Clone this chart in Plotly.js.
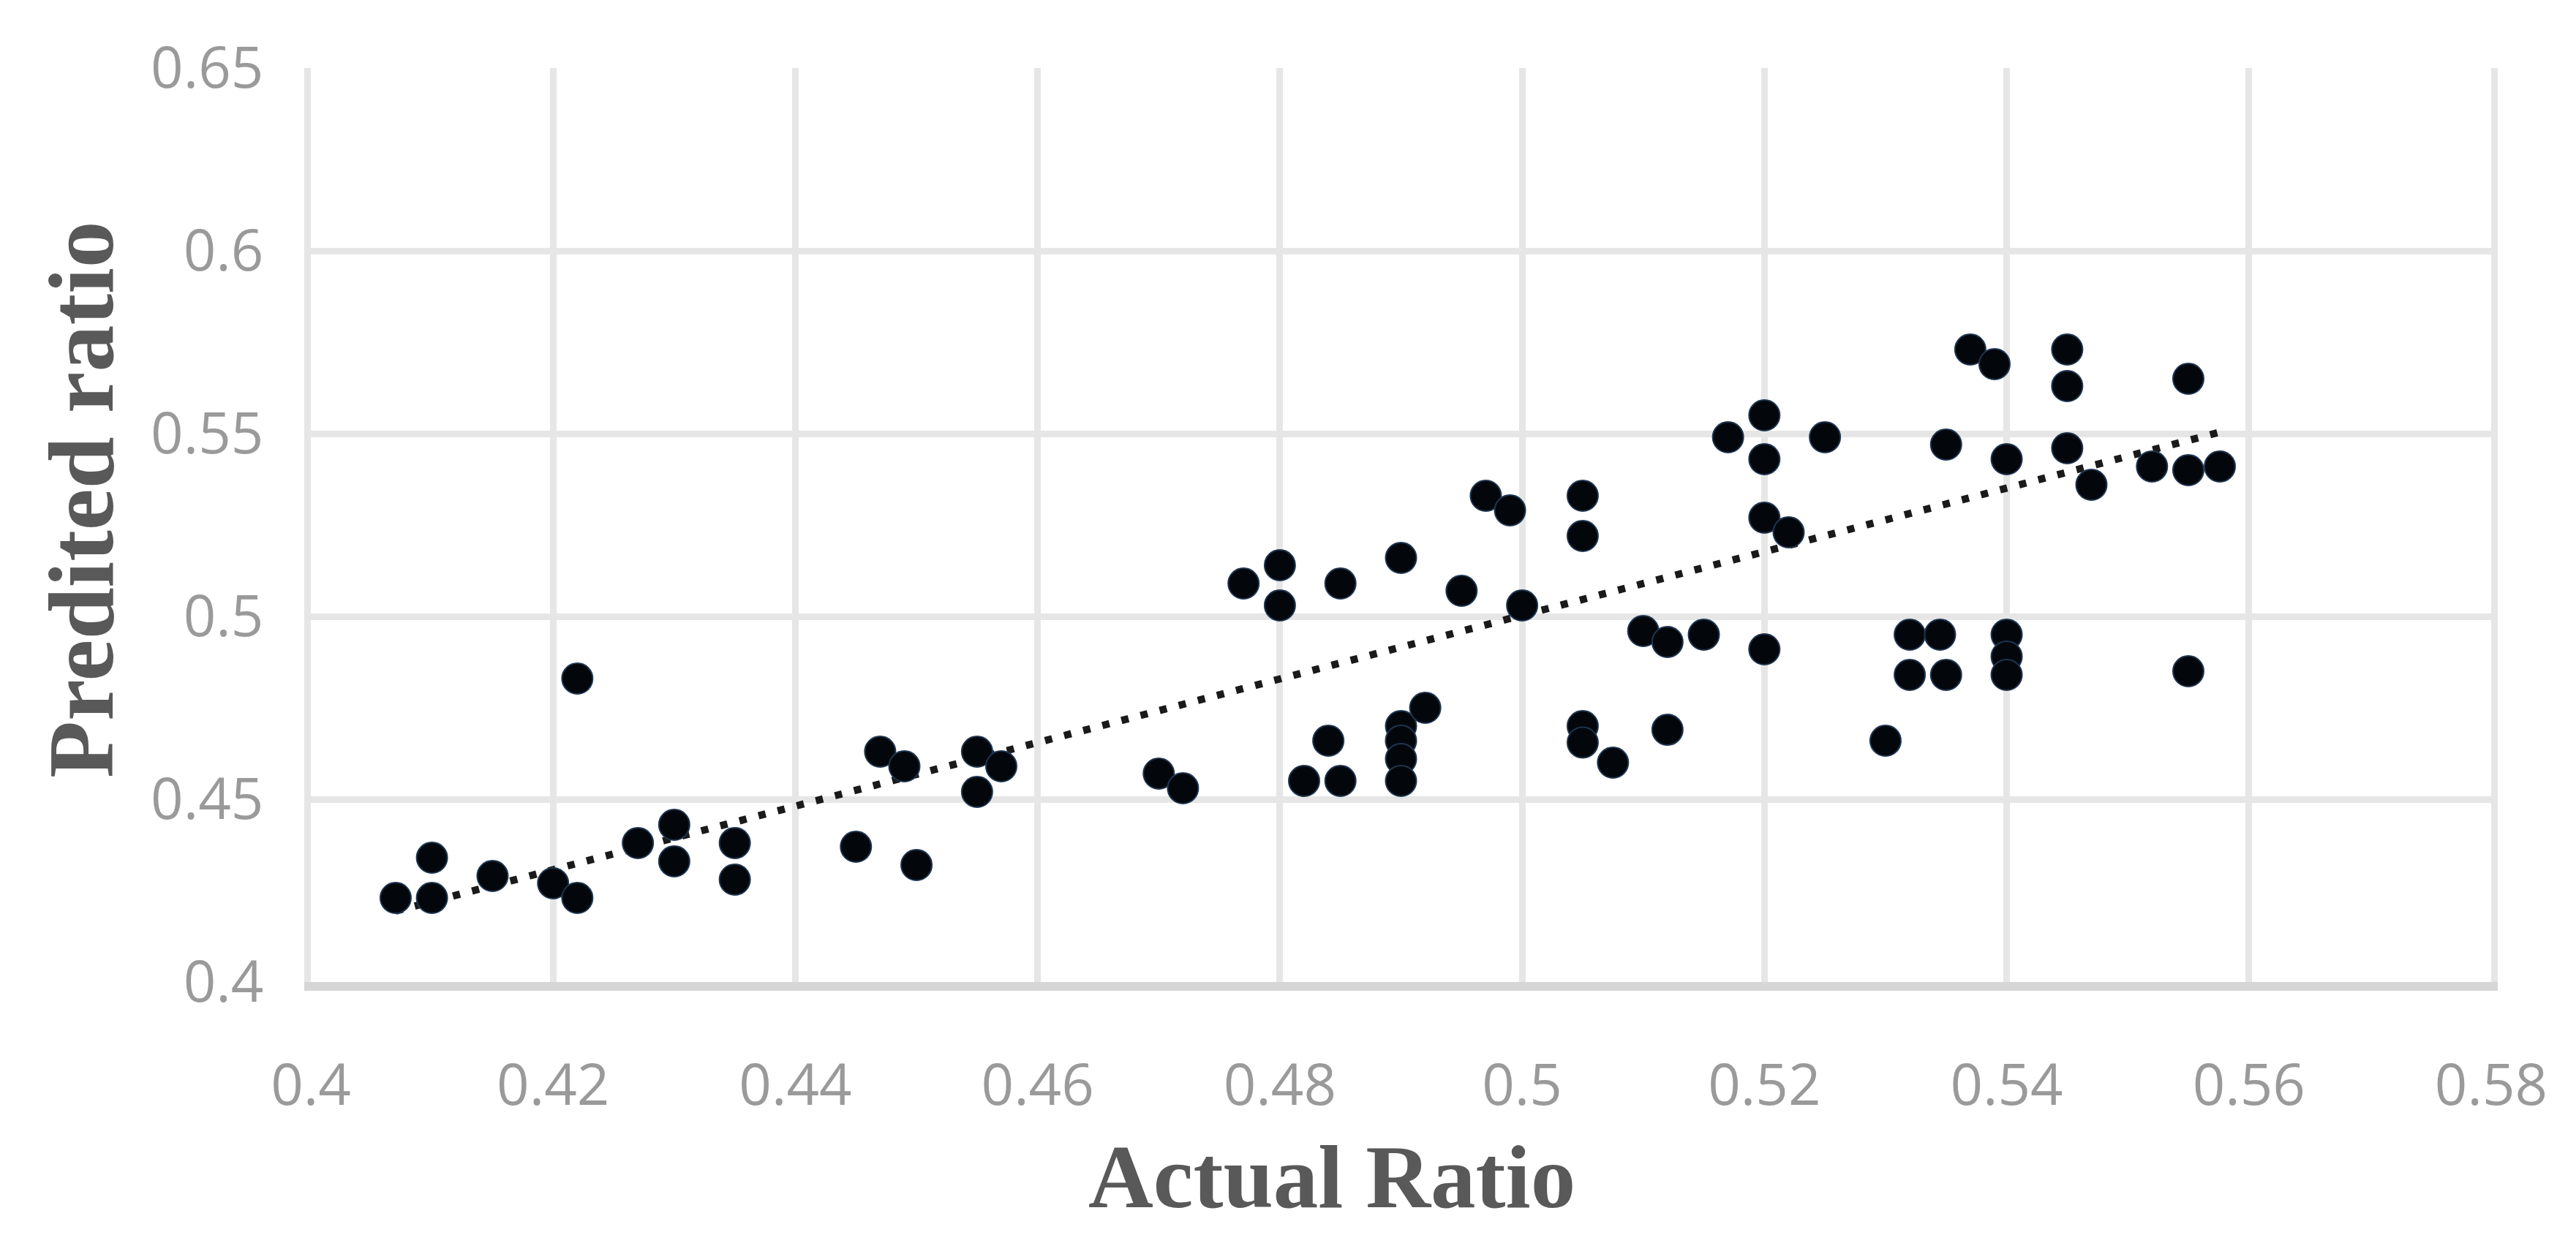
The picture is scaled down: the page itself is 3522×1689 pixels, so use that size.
<!DOCTYPE html>
<html>
<head>
<meta charset="utf-8">
<script src="https://cdn.plot.ly/plotly-3.0.1.min.js"></script>
<style>html,body{margin:0;padding:0;background:#fff;}#chart{width:3522px;height:1689px;}</style>
</head>
<body>
<div id="chart"></div>
<script>
// Actual ratio (x) and predicted ratio (y)
const actualRatio = [
  0.407, 0.410, 0.410, 0.415, 0.420, 0.422, 0.422, 0.427, 0.430, 0.430,
  0.435, 0.435, 0.445, 0.447, 0.449, 0.450, 0.455, 0.455, 0.457, 0.470,
  0.472, 0.477, 0.480, 0.480, 0.482, 0.484, 0.485, 0.485, 0.490, 0.490,
  0.490, 0.490, 0.490, 0.492, 0.495, 0.497, 0.499, 0.500, 0.505, 0.505,
  0.505, 0.505, 0.5075, 0.510, 0.512, 0.512, 0.515, 0.517, 0.520, 0.520,
  0.520, 0.522, 0.520, 0.525, 0.530, 0.532, 0.532, 0.5345, 0.535, 0.535,
  0.537, 0.539, 0.540, 0.540, 0.540, 0.540, 0.545, 0.545, 0.545, 0.547,
  0.552, 0.555, 0.555, 0.555, 0.5576
];
const predictedRatio = [
  0.423, 0.423, 0.434, 0.429, 0.427, 0.423, 0.483, 0.438, 0.443, 0.433,
  0.438, 0.428, 0.437, 0.463, 0.459, 0.432, 0.463, 0.452, 0.459, 0.457,
  0.453, 0.509, 0.514, 0.503, 0.455, 0.466, 0.509, 0.455, 0.516, 0.470,
  0.466, 0.461, 0.455, 0.475, 0.507, 0.533, 0.529, 0.503, 0.533, 0.522,
  0.470, 0.4655, 0.460, 0.496, 0.493, 0.469, 0.495, 0.549, 0.555, 0.543,
  0.527, 0.523, 0.491, 0.549, 0.466, 0.495, 0.484, 0.495, 0.484, 0.547,
  0.573, 0.569, 0.543, 0.495, 0.489, 0.484, 0.573, 0.563, 0.546, 0.536,
  0.541, 0.565, 0.540, 0.485, 0.541
];
// Dotted trendline end points
const trendX = [0.407, 0.5576];
const trendY = [0.4194, 0.5504];
const xTickVals = [0.4, 0.42, 0.44, 0.46, 0.48, 0.5, 0.52, 0.54, 0.56, 0.58];
const xTickText = ["0.4", "0.42", "0.44", "0.46", "0.48", "0.5", "0.52", "0.54", "0.56", "0.58"];
const yTickVals = [0.4, 0.45, 0.5, 0.55, 0.6, 0.65];
const yTickText = ["0.4", "0.45", "0.5", "0.55", "0.6", "0.65"];
const xTitle = "Actual Ratio";
const yTitle = "Predited ratio";

const traces = [
  {
    x: trendX, y: trendY, type: 'scatter', mode: 'lines',
    line: {color: '#1a1a1a', width: 10, dash: '10px,17px'},
    hoverinfo: 'skip', showlegend: false
  },
  {
    x: actualRatio, y: predictedRatio, type: 'scatter', mode: 'markers',
    marker: {size: 42, color: '#03070c', line: {color: '#1f3650', width: 2}},
    showlegend: false
  }
];

const tickFont = {family: 'Open Sans, sans-serif', size: 78, color: '#9a9a9a'};
const titleFont = {family: 'Liberation Serif, serif', color: '#595959', weight: 'bold'};

const layout = {
  width: 3522, height: 1689,
  margin: {l: 425, r: 116, t: 93, b: 346, pad: 0},
  paper_bgcolor: '#ffffff', plot_bgcolor: '#ffffff',
  showlegend: false,
  xaxis: {
    range: [0.4, 0.58], tickvals: xTickVals, ticktext: xTickText,
    showgrid: true, gridcolor: '#e6e6e6', gridwidth: 9,
    zeroline: false, showline: true, linecolor: '#d6d6d6', linewidth: 12,
    ticks: '', ticklabelstandoff: 62, tickfont: tickFont
  },
  yaxis: {
    range: [0.4, 0.65], tickvals: yTickVals, ticktext: yTickText,
    showgrid: true, gridcolor: '#e6e6e6', gridwidth: 9,
    zeroline: false, showline: true, linecolor: '#e6e6e6', linewidth: 9, mirror: true,
    ticks: '', ticklabelstandoff: 40, tickfont: tickFont
  },
  annotations: [
    {
      text: xTitle, xref: 'paper', yref: 'paper', x: 0.4683, y: -0.2128,
      xanchor: 'center', yanchor: 'middle', showarrow: false,
      font: Object.assign({size: 123}, titleFont)
    },
    {
      text: yTitle, xref: 'paper', yref: 'paper', x: -0.1053, y: 0.528,
      xanchor: 'center', yanchor: 'middle', showarrow: false, textangle: -90,
      font: Object.assign({size: 128}, titleFont)
    }
  ]
};

Plotly.newPlot('chart', traces, layout, {displayModeBar: false, staticPlot: true});
</script>
</body>
</html>
